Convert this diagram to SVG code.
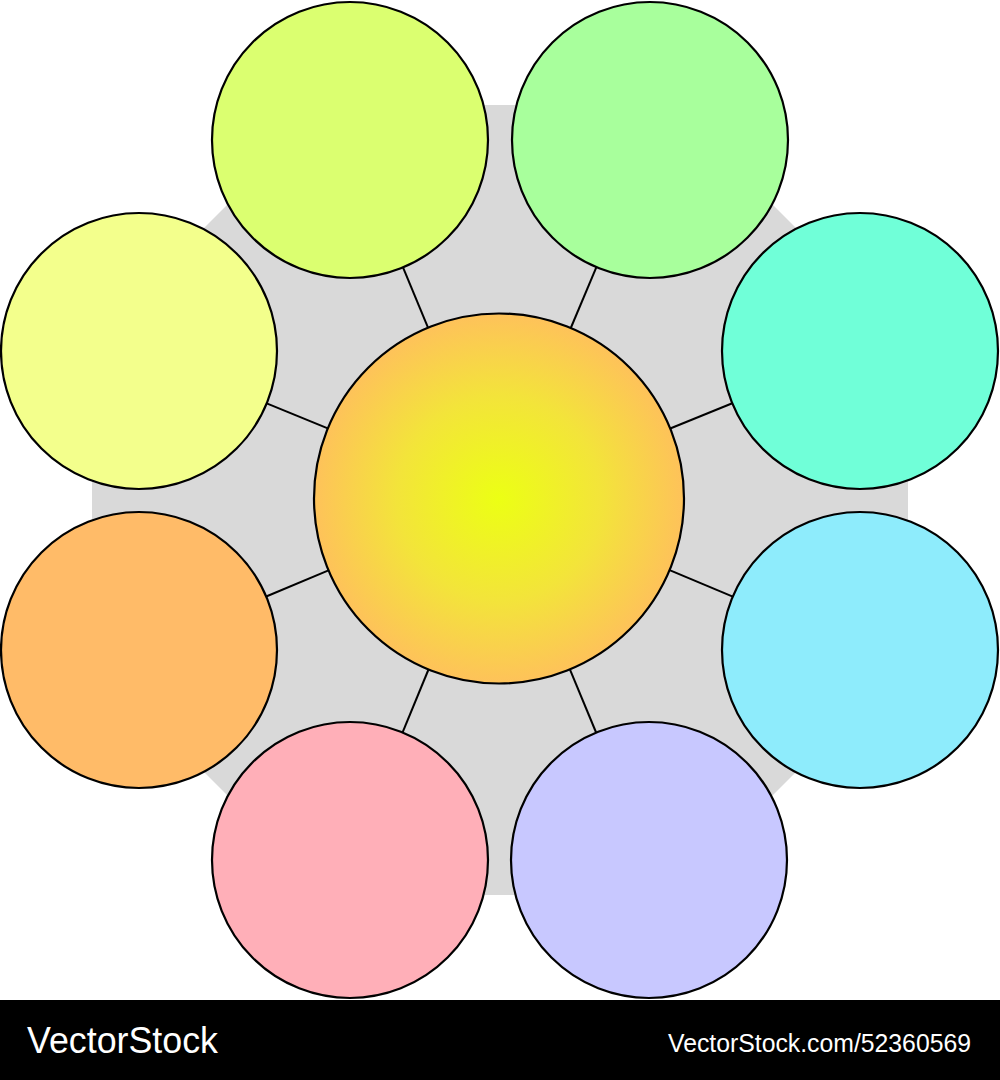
<svg xmlns="http://www.w3.org/2000/svg" width="1000" height="1080" viewBox="0 0 1000 1080">
<style>
.node{stroke:#000;stroke-width:2.2}
.conn line{stroke:#000;stroke-width:2}
.wm{font-family:"Liberation Sans",Arial,sans-serif;fill:#fff}
</style>
<defs>
<radialGradient id="cg" cx="0.5" cy="0.5" r="0.5">
<stop offset="0" stop-color="#ecff14"/>
<stop offset="0.55" stop-color="#f3e43a"/>
<stop offset="1" stop-color="#fec25a"/>
</radialGradient>
</defs>
<rect width="1000" height="1080" fill="#fff"/>
<polygon id="backdrop" points="327,105 673,105 908,340 908,660 673,895 327,895 92,660 92,340" fill="#d9d9d9"/>
<g id="connectors" class="conn">
<line x1="428" y1="327.7" x2="403" y2="267.4"/>
<line x1="570.8" y1="328" x2="596.4" y2="267.2"/>
<line x1="670.2" y1="428.5" x2="732.3" y2="403.2"/>
<line x1="669.6" y1="570.1" x2="732.8" y2="596.6"/>
<line x1="569.9" y1="669.4" x2="596.1" y2="732.5"/>
<line x1="428.5" y1="669.5" x2="402.6" y2="732.4"/>
<line x1="328.5" y1="570.3" x2="266.2" y2="596.5"/>
<line x1="327.8" y1="428.4" x2="266.7" y2="403.3"/>
</g>
<g id="center"><circle class="node" cx="499" cy="498.5" r="185" fill="url(#cg)"/></g>
<g id="n1"><circle class="node" cx="350" cy="140" r="138" fill="#dbff70"/></g>
<g id="n2"><circle class="node" cx="650" cy="140" r="138" fill="#a8ff9c"/></g>
<g id="n3"><circle class="node" cx="860" cy="351" r="138" fill="#70ffd8"/></g>
<g id="n4"><circle class="node" cx="860" cy="650" r="138" fill="#8eecfc"/></g>
<g id="n5"><circle class="node" cx="649" cy="860" r="138" fill="#c8c8ff"/></g>
<g id="n6"><circle class="node" cx="350" cy="860" r="138" fill="#ffafb8"/></g>
<g id="n7"><circle class="node" cx="139" cy="650" r="138" fill="#ffbb68"/></g>
<g id="n8"><circle class="node" cx="139" cy="351" r="138" fill="#f3ff8c"/></g>
<g id="footer">
<rect x="0" y="1000" width="1000" height="80" fill="#000"/>
<text class="wm" x="27" y="1053" font-size="36" textLength="191" lengthAdjust="spacingAndGlyphs">VectorStock</text>
<text class="wm" x="668" y="1052" font-size="25" textLength="303" lengthAdjust="spacingAndGlyphs">VectorStock.com/52360569</text>
</g>
</svg>
